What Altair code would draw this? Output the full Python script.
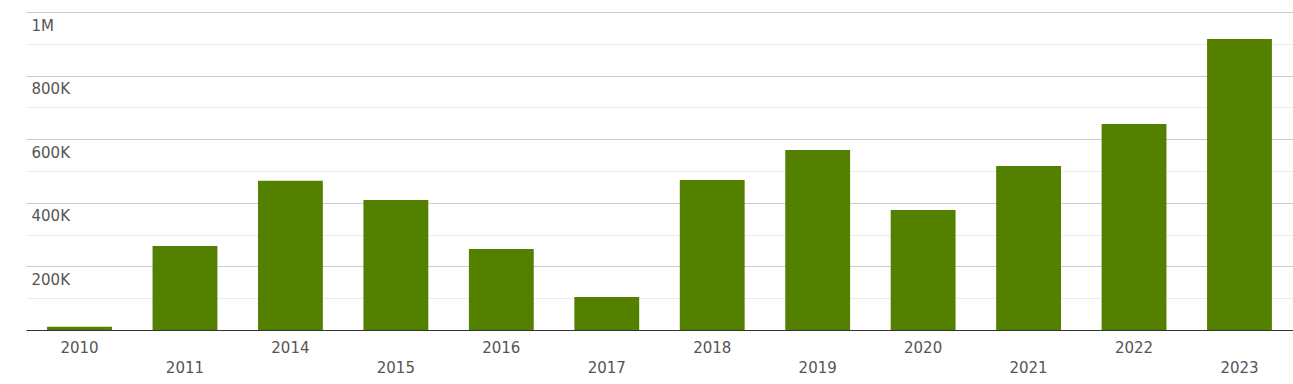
import altair as alt
import pandas as pd

years = ["2010", "2011", "2014", "2015", "2016", "2017", "2018", "2019", "2020", "2021", "2022", "2023"]
values = [10000, 264000, 469000, 409000, 255000, 104000, 472000, 566000, 377000, 516000, 648000, 915000]
y_ticks = [0, 100000, 200000, 300000, 400000, 500000, 600000, 700000, 800000, 900000, 1000000]

df = pd.DataFrame({"year": years, "value": values})

FONT = "DejaVu Sans"

chart = alt.Chart(df).mark_bar(color="#548000").encode(
    x=alt.X(
        "year:N",
        sort=years,
        title=None,
        scale=alt.Scale(paddingInner=0.385, paddingOuter=0.2),
        axis=alt.Axis(
            labelAngle=0,
            ticks=False,
            domain=True,
            domainColor="#333333",
            domainWidth=1,
            grid=False,
            labelFont=FONT,
            labelFontSize=15,
            labelColor="#555555",
            labelBaseline="top",
            labelPadding=10,
            labelLineHeight=20,
            labelExpr="toNumber(datum.value) % 2 === 1 ? ['', datum.value] : datum.value",
        ),
    ),
    y=alt.Y(
        "value:Q",
        title=None,
        scale=alt.Scale(domain=[0, 1000000], nice=False),
        axis=alt.Axis(
            values=y_ticks,
            domain=False,
            ticks=False,
            grid=True,
            gridColor={"condition": {"test": "datum.value % 200000 === 0", "value": "#cccccc"}, "value": "#ebebeb"},
            gridWidth=1,
            labelAlign="left",
            labelBaseline="top",
            labelPadding=-5,
            labelOffset=6,
            labelFont=FONT,
            labelFontSize=15,
            labelColor="#555555",
            labelExpr="datum.value == 0 || datum.value % 200000 ? '' : replace(format(datum.value, '~s'), 'k', 'K')",
        ),
    ),
).properties(
    width=1267,
    height=318,
    padding={"left": 26, "top": 12, "right": 0, "bottom": 54},
    autosize=alt.AutoSizeParams(type="none"),
).configure_view(stroke=None).configure_axis(labelOverlap=False)

chart.save("out.html", embed_options={"renderer": "svg", "actions": False})
